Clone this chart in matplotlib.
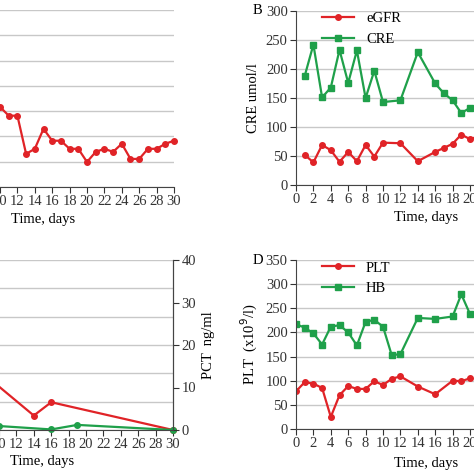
import matplotlib
matplotlib.use("Agg")
import matplotlib.pyplot as plt

plt.rcParams['font.family'] = ['Liberation Serif', 'DejaVu Serif']
plt.rcParams['font.size'] = 10.5

RED = '#e02327'
GREEN = '#1fa04a'
GRID = '#c8c8c8'
AX = '#444444'

# Panel A (units of grid intervals)
a_days = [9, 10, 11, 12, 13, 14, 15, 16, 17, 18, 19, 20, 21, 22, 23, 24, 25, 26, 27, 28, 29, 30]
a_vals = [3.5, 3.17, 2.82, 2.82, 1.31, 1.51, 2.30, 1.83, 1.83, 1.51, 1.51, 0.99, 1.39, 1.51, 1.39, 1.71, 1.11, 1.11, 1.51, 1.51, 1.71, 1.83]

# Panel B
b_cre_days = [1, 2, 3, 4, 5, 6, 7, 8, 9, 10, 12, 14, 16, 17, 18, 19, 20, 21]
b_cre = [188, 242, 151, 168, 233, 176, 232, 150, 197, 143, 146, 229, 175, 158, 146, 124, 133, 130]
b_egfr_days = [1, 2, 3, 4, 5, 6, 7, 8, 9, 10, 12, 14, 16, 17, 18, 19, 20, 21]
b_egfr = [52, 39, 69, 60, 40, 57, 41, 69, 49, 73, 72, 41, 57, 64, 71, 87, 79, 84]

# Panel C (left-axis grid units)
c_red_days = [7, 14, 16, 30]
c_red = [2.3, 0.51, 0.98, 0.0]
c_green_days = [10, 16, 19, 30]
c_green = [0.14, 0.02, 0.18, 0.0]

# Panel D
d_days = [0, 1, 2, 3, 4, 5, 6, 7, 8, 9, 10, 11, 12, 14, 16, 18, 19, 20]
d_plt = [78, 97, 94, 85, 25, 70, 89, 83, 83, 99, 91, 104, 109, 88, 72, 100, 99, 105]
d_hb = [217, 210, 198, 175, 212, 215, 200, 173, 222, 226, 212, 153, 155, 230, 228, 233, 279, 238]

W = H = 474
fig = plt.figure(figsize=(4.74, 4.74), dpi=100)

def add(left, right, top, bottom):
    return fig.add_axes([left / W, 1 - bottom / H, (right - left) / W, (bottom - top) / H])

def style(ax, right=False):
    for s in ['top', 'right', 'left', 'bottom']:
        ax.spines[s].set_visible(False)
    ax.spines['bottom'].set_visible(True)
    ax.spines['bottom'].set_color(AX)
    if right:
        ax.spines['right'].set_visible(True); ax.spines['right'].set_color(AX)
    else:
        ax.spines['left'].set_visible(True); ax.spines['left'].set_color(AX)
    ax.yaxis.grid(True, color=GRID, lw=1)
    ax.set_axisbelow(True)
    ax.tick_params(colors='#333333', length=4, pad=2)
    ax.set_xticks(range(0, 31, 2))
    ax.set_xlim(0, 30)

# A
axA = add(-87, 174, 10, 187)
style(axA)
axA.set_ylim(0, 7)
axA.set_yticks(range(0, 8))
axA.plot(a_days, a_vals, color=RED, marker='o', ms=4, lw=1.6, clip_on=False)
axA.set_xlabel('Time, days', labelpad=3)

# B
axB = add(296, 557, 11, 185)
style(axB)
axB.set_ylim(0, 300)
axB.set_yticks(range(0, 301, 50))
axB.plot(b_egfr_days, b_egfr, color=RED, marker='o', ms=4, lw=1.6, label='eGFR')
axB.plot(b_cre_days, b_cre, color=GREEN, marker='s', ms=4, lw=1.6, label='CRE')
axB.set_ylabel('CRE umol/l', labelpad=4)
axB.set_xlabel('Time, days', labelpad=3)
axB.legend(loc='upper left', bbox_to_anchor=(0.05, 1.07), frameon=False, handlelength=2.2, labelspacing=0.5)
fig.text(253 / W, 1 - 11 / H, 'B', ha='left', va='center')

# C
axC = add(-88, 173, 260, 430)
style(axC, right=True)
axC.set_ylim(0, 6)
axC.set_yticks(range(0, 7))
axC.tick_params(axis='y', left=False, labelleft=False)
axC.plot(c_red_days, c_red, color=RED, marker='o', ms=4, lw=1.6, clip_on=False)
axC.plot(c_green_days, c_green, color=GREEN, marker='o', ms=4, lw=1.6, clip_on=False)
axC.set_xlabel('Time, days', labelpad=3)
axC2 = axC.twinx()
axC2.set_position(axC.get_position())
for s in ['top', 'left', 'bottom']:
    axC2.spines[s].set_visible(False)
axC2.spines['right'].set_color(AX)
axC2.set_ylim(0, 40)
axC2.set_yticks(range(0, 41, 10))
axC2.tick_params(colors='#333333', length=4, pad=2)
axC2.set_ylabel('PCT  ng/ml', labelpad=4)

# D
axD = add(296, 557, 260, 429)
style(axD)
axD.set_ylim(0, 350)
axD.set_yticks(range(0, 351, 50))
axD.plot(d_days, d_plt, color=RED, marker='o', ms=4, lw=1.6, label='PLT')
axD.plot(d_days, d_hb, color=GREEN, marker='s', ms=4, lw=1.6, label='HB')
axD.set_ylabel('PLT  (x10$^9$/l)', labelpad=4)
axD.set_xlabel('Time, days', labelpad=5)
axD.legend(loc='upper left', bbox_to_anchor=(0.05, 1.07), frameon=False, handlelength=2.2, labelspacing=0.5)
fig.text(253 / W, 1 - 260 / H, 'D', ha='left', va='center')

fig.savefig('out.png', dpi=100)
